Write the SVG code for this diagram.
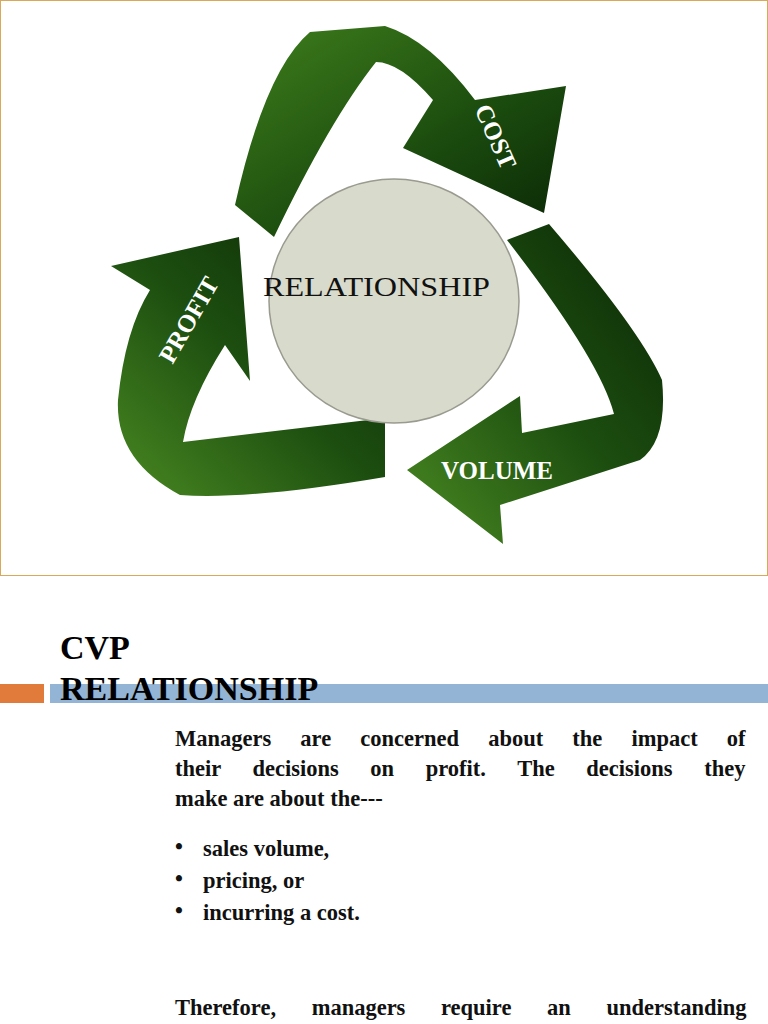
<svg xmlns="http://www.w3.org/2000/svg" width="768" height="1024" viewBox="0 0 768 1024">
<defs>
<linearGradient id="g" x1="0" y1="0" x2="1" y2="1">
<stop offset="0" stop-color="#3f7f1c"/><stop offset="0.6" stop-color="#1a4a0e"/><stop offset="1" stop-color="#0a2605"/>
</linearGradient>
<linearGradient id="g2" x1="1" y1="0" x2="0" y2="1">
<stop offset="0" stop-color="#0a2605"/><stop offset="0.5" stop-color="#1d4f10"/><stop offset="1" stop-color="#4a8a22"/>
</linearGradient>
</defs>
<style>
.a{stroke:none}
.w{fill:#fff;font-family:"Liberation Serif",serif;font-size:25px;font-weight:bold}
.b{font-family:"Liberation Serif",serif;font-weight:bold;font-size:22.5px;fill:#111}
.h{font-family:"Liberation Serif",serif;font-weight:bold;font-size:34px;fill:#000}
</style>
<rect x="0.5" y="0.5" width="767" height="575" fill="#fff" stroke="#d9a85a"/>
<g id="cost"><path class="a" fill="url(#g)" d="M235,205 Q265,70 310,32 L385,26 Q430,40 475,100 L566,86 L544,213 L403,148 L433,100 Q400,62 376,62 Q330,120 274,237 Z"/>
<text class="w" transform="translate(488,140) rotate(66)" text-anchor="middle">COST</text></g>
<g id="volume"><path class="a" fill="url(#g2)" d="M507,240 L549,224 Q640,330 662,380 Q668,440 640,460 L500,505 L503,544 L407,470 L520,396 L522,433 L614,414 Q600,360 507,240 Z"/>
<text class="w" x="497" y="479" text-anchor="middle">VOLUME</text></g>
<g id="profit"><path class="a" fill="url(#g2)" d="M239,237 L250,381 L225,345 Q190,400 183,442 L385,418 L385,477 Q250,500 180,495 Q115,460 118,400 Q125,330 150,290 L111,266 Z"/>
<text class="w" transform="translate(196,324) rotate(-60)" text-anchor="middle">PROFIT</text></g>
<g id="relationship"><ellipse cx="394" cy="301" rx="125" ry="122" fill="#d8dacb" stroke="#9a9a90" stroke-width="1.5"/>
<text x="263" y="296" textLength="227" lengthAdjust="spacingAndGlyphs" font-family="Liberation Serif,serif" font-size="28" fill="#111">RELATIONSHIP</text></g>
<rect x="0" y="684" width="44" height="19" fill="#e07b3c"/>
<rect x="50" y="684" width="718" height="19" fill="#93b4d4"/>
<text class="h" x="60" y="659">CVP</text>
<text class="h" x="60" y="700">RELATIONSHIP</text>
<text class="b" x="175" y="746" word-spacing="23.5">Managers are concerned about the impact of</text>
<text class="b" x="175" y="776" word-spacing="26">their decisions on profit. The decisions they</text>
<text class="b" x="175" y="806">make are about the---</text>
<text class="b" x="175" y="854">•</text><text class="b" x="203" y="856">sales volume,</text>
<text class="b" x="175" y="886">•</text><text class="b" x="203" y="888">pricing, or</text>
<text class="b" x="175" y="918">•</text><text class="b" x="203" y="920">incurring a cost.</text>
<text class="b" x="175" y="1015" word-spacing="30">Therefore, managers require an understanding</text>
</svg>
